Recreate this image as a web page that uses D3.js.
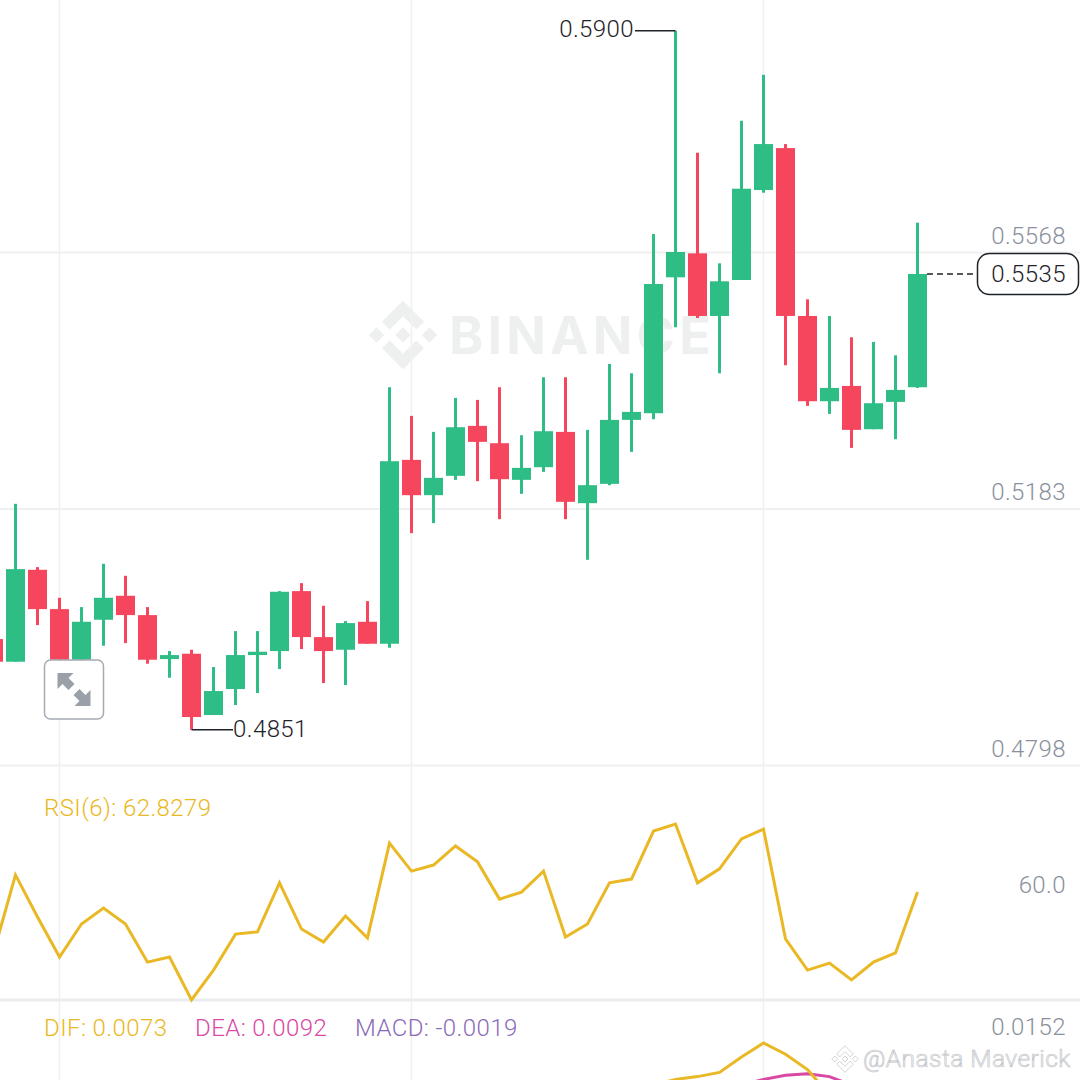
<!DOCTYPE html>
<html>
<head>
<meta charset="utf-8">
<script src="https://cdn.jsdelivr.net/npm/d3@7"></script>
<style>
    html, body { margin: 0; padding: 0; background: #fff; }
    svg { display: block; }
    text { font-family: Roboto, sans-serif; }
</style>
</head>
<body>
<script>
//Candles, oldest first. The first one is cut off by the left edge
const opens = [0.4987,0.4953,0.5091,0.5032,0.4956,0.5016,0.5052,0.5023,0.4957,0.4965,0.4873,0.4912,0.4963,0.4969,0.5059,0.4990,0.4971,0.5013,0.4980,0.5256,0.5203,0.5232,0.5307,0.5281,0.5226,0.5245,0.5298,0.5191,0.5220,0.5316,0.5326,0.5530,0.5566,0.5472,0.5526,0.5661,0.5724,0.5472,0.5344,0.5367,0.5302,0.5343,0.5365];
const closes = [0.4953,0.5092,0.5032,0.4956,0.5013,0.5049,0.5023,0.4956,0.4963,0.4870,0.4909,0.4963,0.4968,0.5058,0.4990,0.4969,0.5011,0.4980,0.5254,0.5203,0.5229,0.5305,0.5283,0.5227,0.5244,0.5299,0.5193,0.5218,0.5316,0.5328,0.5520,0.5568,0.5472,0.5524,0.5663,0.5730,0.5472,0.5344,0.5364,0.5301,0.5341,0.5361,0.5535];
const highs = [0.4987,0.5190,0.5095,0.5049,0.5035,0.5100,0.5082,0.5035,0.4969,0.4971,0.4945,0.4999,0.4999,0.5059,0.5071,0.5037,0.5014,0.5044,0.5365,0.5322,0.5298,0.5349,0.5346,0.5365,0.5293,0.5380,0.5380,0.5301,0.5400,0.5386,0.5595,0.5900,0.5717,0.5551,0.5765,0.5834,0.5730,0.5497,0.5472,0.5440,0.5433,0.5413,0.5612];
const lows = [0.4953,0.4953,0.5008,0.4950,0.4953,0.4977,0.4981,0.4950,0.4929,0.4851,0.4873,0.4888,0.4906,0.4942,0.4972,0.4921,0.4918,0.4980,0.4974,0.5146,0.5161,0.5226,0.5224,0.5167,0.5205,0.5238,0.5167,0.5106,0.5218,0.5268,0.5317,0.5455,0.5469,0.5386,0.5526,0.5657,0.5398,0.5337,0.5325,0.5274,0.5302,0.5287,0.5364];

const rsiValues = [43.7,68.2,55.0,42.4,52.8,57.8,52.8,40.8,42.4,28.9,38.3,49.6,50.3,65.7,51.2,47.1,55.3,48.4,78.2,69.4,71.3,77.3,72.3,60.6,62.8,69.4,48.7,52.8,65.7,66.9,82.0,84.2,65.7,70.1,79.5,82.6,48.1,38.3,40.5,35.2,40.8,43.7,62.83];

//MACD pane is cut off by the bottom of the picture, only the tail shows
const difStart = 30;
const difValues = [0.0122,0.0126,0.0128,0.0131,0.0142,0.0152,0.0144,0.0133,0.0115,0.0101];
const deaStart = 33;
const deaValues = [0.0115,0.0122,0.0126,0.0129,0.0130,0.0128,0.0122];

const priceTicks = [0.5568,0.5183,0.4798];
const rsiTicks = [60.0];
const macdTicks = [0.0152];
const timeGrid = [3,19,35];
const lastPrice = 0.5535;
const highestIndex = 31, lowestIndex = 9;
const rsiLabel = "RSI(6): 62.8279";
const macdLabels = ["DIF: 0.0073","DEA: 0.0092","MACD: -0.0019"];

const width = 1080, height = 1080;
const green = "#2ebd85", red = "#f6465d", yellow = "#e9b824",
    pink = "#d948a5", purple = "#8b6bb8",
    gridColour = "#eff0f2", dark = "#1e2329";
const fontSize = 24, tracking = 0.42;

const svg = d3.select("body").append("svg")
    .attr("width",width)
    .attr("height",height);

//Scales. Pixel ranges come from the picture
const x = d3.scaleLinear().domain([0,42]).range([-6.5,917.5]),
    y = d3.scaleLinear().domain([0.4798,0.5568]).range([765,252]),
    yRsi = d3.scaleLinear().domain([28.9,84.2]).range([1000,824]),
    yMacd = d3.scaleLinear().domain([0.0092,0.0152]).range([1127,1043]);

const logoPaths = [
    "M38.73 53.2l24.59-24.58 24.6 24.6 14.3-14.31L63.32 0 24.42 38.9 38.73 53.2z",
    "M0 63.31l14.3-14.31 14.31 14.31L14.3 77.61z",
    "M38.73 73.41l24.59 24.59 24.6-24.6 14.31 14.29-.01.01-38.9 38.91-38.9-38.88-.02-.02 14.33-14.3z",
    "M98 63.31l14.3-14.31 14.31 14.3-14.31 14.31z",
    "M77.83 63.3L63.32 48.78 52.59 59.5l-1.24 1.23-2.54 2.54 14.51 14.5 14.51-14.47z"
];

//Big watermark goes under everything
function drawLogo(parent,cx,cy,scale){
    return parent.append("g")
        .attr("transform",`translate(${cx - 63.3 * scale},${cy - 63.3 * scale}) scale(${scale})`)
        .selectAll("path").data(logoPaths).join("path")
        .attr("d",d => d);
}
drawLogo(svg,403,335,0.54).attr("fill","#eef0f0");
svg.append("text")
    .attr("x",449).attr("y",354)
    .attr("font-size",52).attr("font-weight",700)
    .attr("letter-spacing",4.1)
    .style("font-family","Inter, sans-serif")
    .attr("fill","#eef0f0")
    .text("BINANCE");

//Vertical grid
svg.append("g").selectAll("line").data(timeGrid).join("line")
    .attr("x1",d => x(d)).attr("x2",d => x(d))
    .attr("y1",0).attr("y2",height)
    .attr("stroke",gridColour).attr("stroke-width",1.5);

//Axis helper: right hand labels sit above their grid line
function drawAxis(scale,ticks,format,showLine){
    let g = svg.append("g").call(
        d3.axisRight(scale).tickValues(ticks).tickFormat(format).tickSize(width).tickPadding(0)
    );
    g.select(".domain").remove();
    g.selectAll(".tick line")
        .attr("stroke",showLine ? gridColour : "none")
        .attr("stroke-width",2);
    g.selectAll(".tick text")
        .attr("x",1066).attr("dy",-9)
        .attr("text-anchor","end")
        .attr("font-size",fontSize)
        .attr("font-weight",300)
        .attr("letter-spacing",tracking)
        .style("font-family","Roboto, sans-serif")
        .attr("fill","#8a919c");
    return g;
}
drawAxis(y,priceTicks,d3.format(".4f"),true);
drawAxis(yRsi,rsiTicks,d3.format(".1f"),false);
drawAxis(yMacd,macdTicks,d3.format(".4f"),false);

//Pane separator
svg.append("line")
    .attr("x1",0).attr("x2",width)
    .attr("y1",yRsi(28.9)).attr("y2",yRsi(28.9))
    .attr("stroke","#eaecef").attr("stroke-width",3);

//Candles
const bars = svg.append("g").selectAll("g").data(opens).join("g")
    .attr("fill",(d,i) => closes[i] >= d ? green : red);
bars.append("rect")
    .attr("x",(d,i) => x(i) - 1.5)
    .attr("width",3)
    .attr("y",(d,i) => y(highs[i]))
    .attr("height",(d,i) => y(lows[i]) - y(highs[i]));
bars.append("rect")
    .attr("x",(d,i) => x(i) - 9.5)
    .attr("width",19)
    .attr("y",(d,i) => y(Math.max(d,closes[i])))
    .attr("height",(d,i) => Math.abs(y(d) - y(closes[i])));

//Indicator lines
const rsiLine = d3.line().x((d,i) => x(i)).y(d => yRsi(d));
svg.append("path")
    .attr("d",rsiLine(rsiValues))
    .attr("fill","none").attr("stroke",yellow).attr("stroke-width",3)
    .attr("stroke-linejoin","miter");

function macdLine(values,start,colour){
    let line = d3.line().x((d,i) => x(i + start)).y(d => yMacd(d));
    svg.append("path")
        .attr("d",line(values))
        .attr("fill","none").attr("stroke",colour).attr("stroke-width",3);
}
macdLine(deaValues,deaStart,pink);
macdLine(difValues,difStart,yellow);

//Legends
function label(text,lx,ly,colour,anchor){
    return svg.append("text")
        .attr("x",lx).attr("y",ly)
        .attr("dominant-baseline","central")
        .attr("text-anchor",anchor || "start")
        .attr("font-size",fontSize)
        .attr("font-weight",300)
        .attr("letter-spacing",tracking)
        .attr("fill",colour)
        .text(text);
}
label(rsiLabel,44,808,yellow);
label(macdLabels[0],44,1028,yellow);
label(macdLabels[1],195,1028,pink);
label(macdLabels[2],355,1028,purple);

//High and low markers
svg.append("line")
    .attr("x1",635).attr("x2",x(highestIndex))
    .attr("y1",y(highs[highestIndex])).attr("y2",y(highs[highestIndex]))
    .attr("stroke",dark).attr("stroke-width",1.5);
label(d3.format(".4f")(highs[highestIndex]),634,29,dark,"end");
svg.append("line")
    .attr("x1",x(lowestIndex)).attr("x2",233)
    .attr("y1",y(lows[lowestIndex])).attr("y2",y(lows[lowestIndex]))
    .attr("stroke",dark).attr("stroke-width",1.5);
label(d3.format(".4f")(lows[lowestIndex]),233,729,dark);

//Last price tag
svg.append("line")
    .attr("x1",x(42) + 9.5).attr("x2",977)
    .attr("y1",y(lastPrice)).attr("y2",y(lastPrice))
    .attr("stroke",dark).attr("stroke-width",1.5).attr("stroke-dasharray","6 4");
svg.append("rect")
    .attr("x",977.5).attr("y",y(lastPrice) - 20.5)
    .attr("width",101).attr("height",41).attr("rx",12)
    .attr("fill","#fff").attr("stroke",dark).attr("stroke-width",1.5);
label(d3.format(".4f")(lastPrice),1066,y(lastPrice) + 0.5,dark,"end");

//Full screen button
const button = svg.append("g").attr("transform","translate(44.5,660)");
button.append("rect")
    .attr("width",59).attr("height",59).attr("rx",6)
    .attr("fill","#fff").attr("stroke","#a5abb3").attr("stroke-width",1.5);
button.append("path")
    .attr("d","M13 13h16l-5 5 6 6-6 6-6-6-5 5zM46 46H30l5-5-6-6 6-6 6 6 5-5z")
    .attr("fill","#9aa0a8");

//Repost mark on top of everything, outlined
drawLogo(svg,845,1059,0.21)
    .attr("fill","#fff").attr("stroke","#c2c5c8").attr("stroke-width",3.5);
svg.append("text")
    .attr("x",863).attr("y",1067)
    .attr("font-size",24.5).attr("font-weight",300)
    .attr("letter-spacing",0.45)
    .attr("fill","#fff").attr("stroke","#c2c5c8").attr("stroke-width",0.7)
    .text("@Anasta Maverick");
</script>
</body>
</html>
